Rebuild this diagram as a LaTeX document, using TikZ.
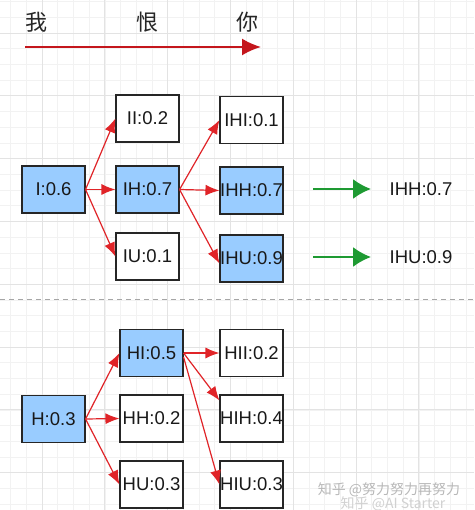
\documentclass[tikz,border=0pt]{standalone}
\usepackage{fontspec}
\setmainfont{Liberation Sans}
\newfontfamily\cjk{Noto Sans CJK SC}
\usetikzlibrary{arrows.meta}
\definecolor{boxblue}{HTML}{99CCFF}
\definecolor{redarr}{HTML}{E02428}
\definecolor{darkred}{HTML}{C4161C}
\definecolor{greenarr}{HTML}{1E9A32}
\tikzset{
  bx/.style={draw=black!85, line width=1.1pt, minimum width=63pt, minimum height=47pt, inner sep=0pt, font=\fontsize{18.5}{20}\selectfont, text=black!90},
  hl/.style={bx, fill=boxblue},
  wt/.style={bx, fill=white},
  rarr/.style={draw=redarr, line width=1.2pt, -{Latex[length=14pt,width=11pt]}},
  garr/.style={draw=greenarr, line width=2pt, -{Latex[length=18pt,width=20pt]}},
  lab/.style={font=\fontsize{18.5}{20}\selectfont, text=black!90, inner sep=0pt},
  cj/.style={font=\cjk\fontsize{22}{24}\selectfont, text=black!85, inner sep=0pt},
  wm/.style={font=\cjk\fontsize{14}{16}\selectfont, inner sep=0pt}
}
\begin{document}
\begin{tikzpicture}[x=1pt,y=-1pt]
\useasboundingbox (0,0) rectangle (474,510);
\fill[white] (0,0) rectangle (474,510);
% grid
\foreach \i in {-2,...,30} {
  \draw[black!5, line width=0.6pt] ({42+15.7*\i},0) -- ({42+15.7*\i},510);
  \draw[black!5, line width=0.6pt] (0,{33+15.7*\i}) -- (474,{33+15.7*\i});
}
\foreach \i in {-1,...,7} {
  \draw[black!11, line width=0.9pt] ({42+62.8*\i},0) -- ({42+62.8*\i},510);
  \draw[black!11, line width=0.9pt] (0,{33+62.8*\i}) -- (474,{33+62.8*\i});
}
% header
\node[cj] (w1) at (36.5,22) {我};
\node[cj] (w2) at (147.5,22) {恨};
\node[cj] (w3) at (247.5,22) {你};
\coordinate (ta) at (25,47);
\coordinate (tb) at (261,47);
\draw[darkred, line width=2pt, -{Latex[length=19pt,width=17pt]}] (ta) -- (tb);
% separator
\coordinate (sa) at (0,299);
\coordinate (sb) at (474,299);
\draw[black!35, line width=0.9pt, dash pattern=on 5pt off 4pt] (sa) -- (sb);
% top tree
\node[hl] (I) at (53.5,189.5) {I:0.6};
\node[wt] (II) at (147.5,118.5) {II:0.2};
\node[hl] (IH) at (147.5,189.5) {IH:0.7};
\node[wt] (IU) at (147.5,256.5) {IU:0.1};
\node[wt] (IHI) at (251.5,120) {IHI:0.1};
\node[hl] (IHH) at (251.5,190.5) {IHH:0.7};
\node[hl] (IHU) at (251.5,258.5) {IHU:0.9};
\draw[rarr] (I.east) -- (II.west);
\draw[rarr] (I.east) -- (IH.west);
\draw[rarr] (I.east) -- (IU.west);
\draw[rarr] (IH.east) -- (IHI.west);
\draw[rarr] (IH.east) -- (IHH.west);
\draw[rarr] (IH.east) -- ([yshift=-5pt]IHU.west);
% results
\coordinate (g1a) at (313,189);
\node[lab] (r1) at (421,189) {IHH:0.7};
\coordinate (g2a) at (313,257);
\node[lab] (r2) at (421,257) {IHU:0.9};
\draw[garr] (g1a) -- ++(58,0);
\draw[garr] (g2a) -- ++(58,0);
% bottom tree
\node[hl] (H) at (53.5,419) {H:0.3};
\node[hl] (HI) at (151.5,353) {HI:0.5};
\node[wt] (HH) at (151.5,418.5) {HH:0.2};
\node[wt] (HU) at (151.5,484.5) {HU:0.3};
\node[wt] (HII) at (251.5,353) {HII:0.2};
\node[wt] (HIH) at (251.5,418.5) {HIH:0.4};
\node[wt] (HIU) at (251.5,484.5) {HIU:0.3};
\draw[rarr] (H.east) -- (HI.west);
\draw[rarr] (H.east) -- (HH.west);
\draw[rarr] (H.east) -- (HU.west);
\draw[rarr] (HI.east) -- (HII.west);
\draw[rarr] (HI.east) -- ([yshift=-6pt]HIH.north west);
\draw[rarr] ([yshift=-4pt]HI.east) -- (HIU.west);
% watermark
\node[wm, text=black!28] (wm1) at (389,490) {知乎 @努力努力再努力};
\node[wm, text=black!18] (wm2) at (393,504) {知乎 @AI Starter};
\end{tikzpicture}
\end{document}
